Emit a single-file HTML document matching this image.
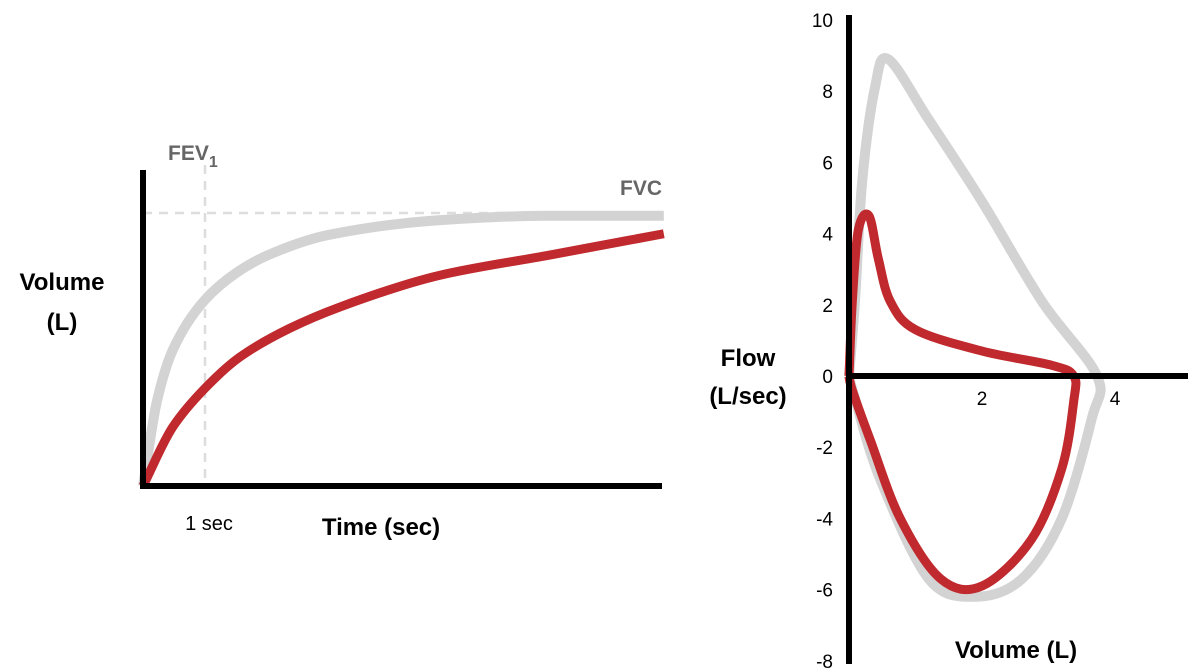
<!DOCTYPE html>
<html><head><meta charset="utf-8"><style>
html,body{margin:0;padding:0;background:#fff;}
svg{display:block;font-family:"Liberation Sans",sans-serif;}
</style></head><body>
<svg id="chart" width="1200" height="671" viewBox="0 0 1200 671">
<g id="left"></g>
<g id="right"></g>
</svg>
<script>
// Left chart data (time sec, volume L)
const normalTimes = [0,0.23,0.48,1,1.5,2,3,4.8,6.5,8.4];
const normalVolume = [0,1.58,2.49,3.41,3.9,4.22,4.6,4.87,4.95,4.95];
const obstructedTimes = [0,0.48,1,1.56,2.37,3.18,4.79,6.56,8.4];
const obstructedVolume = [0,1.08,1.79,2.36,2.89,3.28,3.86,4.23,4.62];
const fvcValue = 5;
const fev1Time = 1;
// Right chart data (volume L, flow L/s)
const flowTicks = [10,8,6,4,2,0,-2,-4,-6,-8];
const volTicks = [2,4];
const normalLoopVol = [0,0.09,0.2,0.39,0.59,1.2,2.0,2.9,3.73,3.65,3.2,2.6,1.9,1.2,0.47,0.1,0];
const normalLoopFlow = [0,2.1,5.5,8.1,8.9,7.2,4.9,2.1,0,-1.2,-4,-5.7,-6.2,-5.7,-2.9,-0.7,0];
const obstLoopVol = [0,0.05,0.14,0.3,0.44,0.62,1.0,2.0,3.05,3.38,3.38,3.2,2.74,2.0,1.38,0.77,0.32,0.05,0];
const obstLoopFlow = [0,2.1,4.1,4.5,3.3,2.1,1.3,0.7,0.3,0,-0.7,-2.6,-4.6,-5.9,-5.7,-4,-1.8,-0.4,0];

const NS="http://www.w3.org/2000/svg";
function mk(tag,attrs,parent){const e=document.createElementNS(NS,tag);for(const k in attrs)e.setAttribute(k,attrs[k]);parent.appendChild(e);return e;}
function smooth(pts){let d=`M${pts[0][0]},${pts[0][1]}`;for(let i=0;i<pts.length-1;i++){const p0=pts[Math.max(0,i-1)],p1=pts[i],p2=pts[i+1],p3=pts[Math.min(pts.length-1,i+2)];
d+=` C${p1[0]+(p2[0]-p0[0])/6},${p1[1]+(p2[1]-p0[1])/6} ${p2[0]-(p3[0]-p1[0])/6},${p2[1]-(p3[1]-p1[1])/6} ${p2[0]},${p2[1]}`;}return d;}
// monotone cubic (Fritsch-Carlson) for x-increasing points
function monotone(pts){const n=pts.length;const dx=[],s=[];for(let i=0;i<n-1;i++){dx.push(pts[i+1][0]-pts[i][0]);s.push((pts[i+1][1]-pts[i][1])/dx[i]);}
const m=[s[0]];for(let i=1;i<n-1;i++){if(s[i-1]*s[i]<=0)m.push(0);else{const w1=2*dx[i]+dx[i-1],w2=dx[i]+2*dx[i-1];m.push((w1+w2)/(w1/s[i-1]+w2/s[i]));}}m.push(s[n-2]);
let d=`M${pts[0][0]},${pts[0][1]}`;for(let i=0;i<n-1;i++){const h=dx[i]/3;d+=` C${pts[i][0]+h},${pts[i][1]+m[i]*h} ${pts[i+1][0]-h},${pts[i+1][1]-m[i+1]*h} ${pts[i+1][0]},${pts[i+1][1]}`;}return d;}

// Left
const L=document.getElementById('left');
const lx=t=>143+t*62, ly=v=>486-v*54.6;
let e;
e=mk('line',{x1:lx(fev1Time),y1:165,x2:lx(fev1Time),y2:486,stroke:'#ddd','stroke-width':2.5,'stroke-dasharray':'9 7'},L);

e=mk('line',{x1:143,y1:ly(fvcValue),x2:600,y2:ly(fvcValue),stroke:'#ddd','stroke-width':2.5,'stroke-dasharray':'9 7'},L);

e=mk('path',{d:monotone(normalTimes.map((t,i)=>[lx(t),ly(normalVolume[i])])),fill:'none',stroke:'#d3d3d3','stroke-width':10},L);

e=mk('path',{d:monotone(obstructedTimes.map((t,i)=>[lx(t),ly(obstructedVolume[i])])),fill:'none',stroke:'#c0292d','stroke-width':9},L);

e=mk('path',{d:'M143,170 V486 H662',fill:'none',stroke:'#000','stroke-width':6},L);

function txt(p,x,y,s,attrs,name){const t=mk('text',Object.assign({x:x,y:y},attrs),p);t.textContent=s;return t;}
txt(L,62,290,'Volume',{'text-anchor':'middle','font-size':24,'font-weight':'bold'},'left-y-axis-title');
txt(L,62,330,'(L)',{'text-anchor':'middle','font-size':24,'font-weight':'bold'},'left-y-axis-unit');
e=txt(L,168,160,'FEV',{'font-size':21,'font-weight':'bold',fill:'#666'},'fev1-label');
const sub=mk('tspan',{dy:7,'font-size':16},e);sub.textContent='1';
txt(L,662,195,'FVC',{'text-anchor':'end','font-size':21,'font-weight':'bold',fill:'#666'},'fvc-label');
txt(L,209,530,'1 sec',{'text-anchor':'middle','font-size':20},'one-sec-label');
txt(L,381,535,'Time (sec)',{'text-anchor':'middle','font-size':24,'font-weight':'bold'},'left-x-axis-title');

// Right
const R=document.getElementById('right');
const rx=v=>849+v*66.5, ry=f=>376-f*35.6;
flowTicks.forEach(f=>{txt(R,833,ry(f)+7,String(f),{'text-anchor':'end','font-size':19},'y-tick-label');});
volTicks.forEach(v=>{txt(R,rx(v),ry(0)+29,String(v),{'text-anchor':'middle','font-size':19},'x-tick-label');});
e=mk('path',{d:smooth(normalLoopVol.map((v,i)=>[rx(v),ry(normalLoopFlow[i])])),fill:'none',stroke:'#d3d3d3','stroke-width':10},R);

e=mk('path',{d:smooth(obstLoopVol.map((v,i)=>[rx(v),ry(obstLoopFlow[i])])),fill:'none',stroke:'#c0292d','stroke-width':9},R);

e=mk('line',{x1:849,y1:15,x2:849,y2:664,stroke:'#000','stroke-width':6},R);

e=mk('line',{x1:846,y1:ry(0),x2:1188,y2:ry(0),stroke:'#000','stroke-width':6},R);

txt(R,748,366,'Flow',{'text-anchor':'middle','font-size':24,'font-weight':'bold'},'right-y-axis-title');
txt(R,748,404,'(L/sec)',{'text-anchor':'middle','font-size':24,'font-weight':'bold'},'right-y-axis-unit');
txt(R,1016,658,'Volume (L)',{'text-anchor':'middle','font-size':24,'font-weight':'bold'},'right-x-axis-title');
</script>
</body></html>
